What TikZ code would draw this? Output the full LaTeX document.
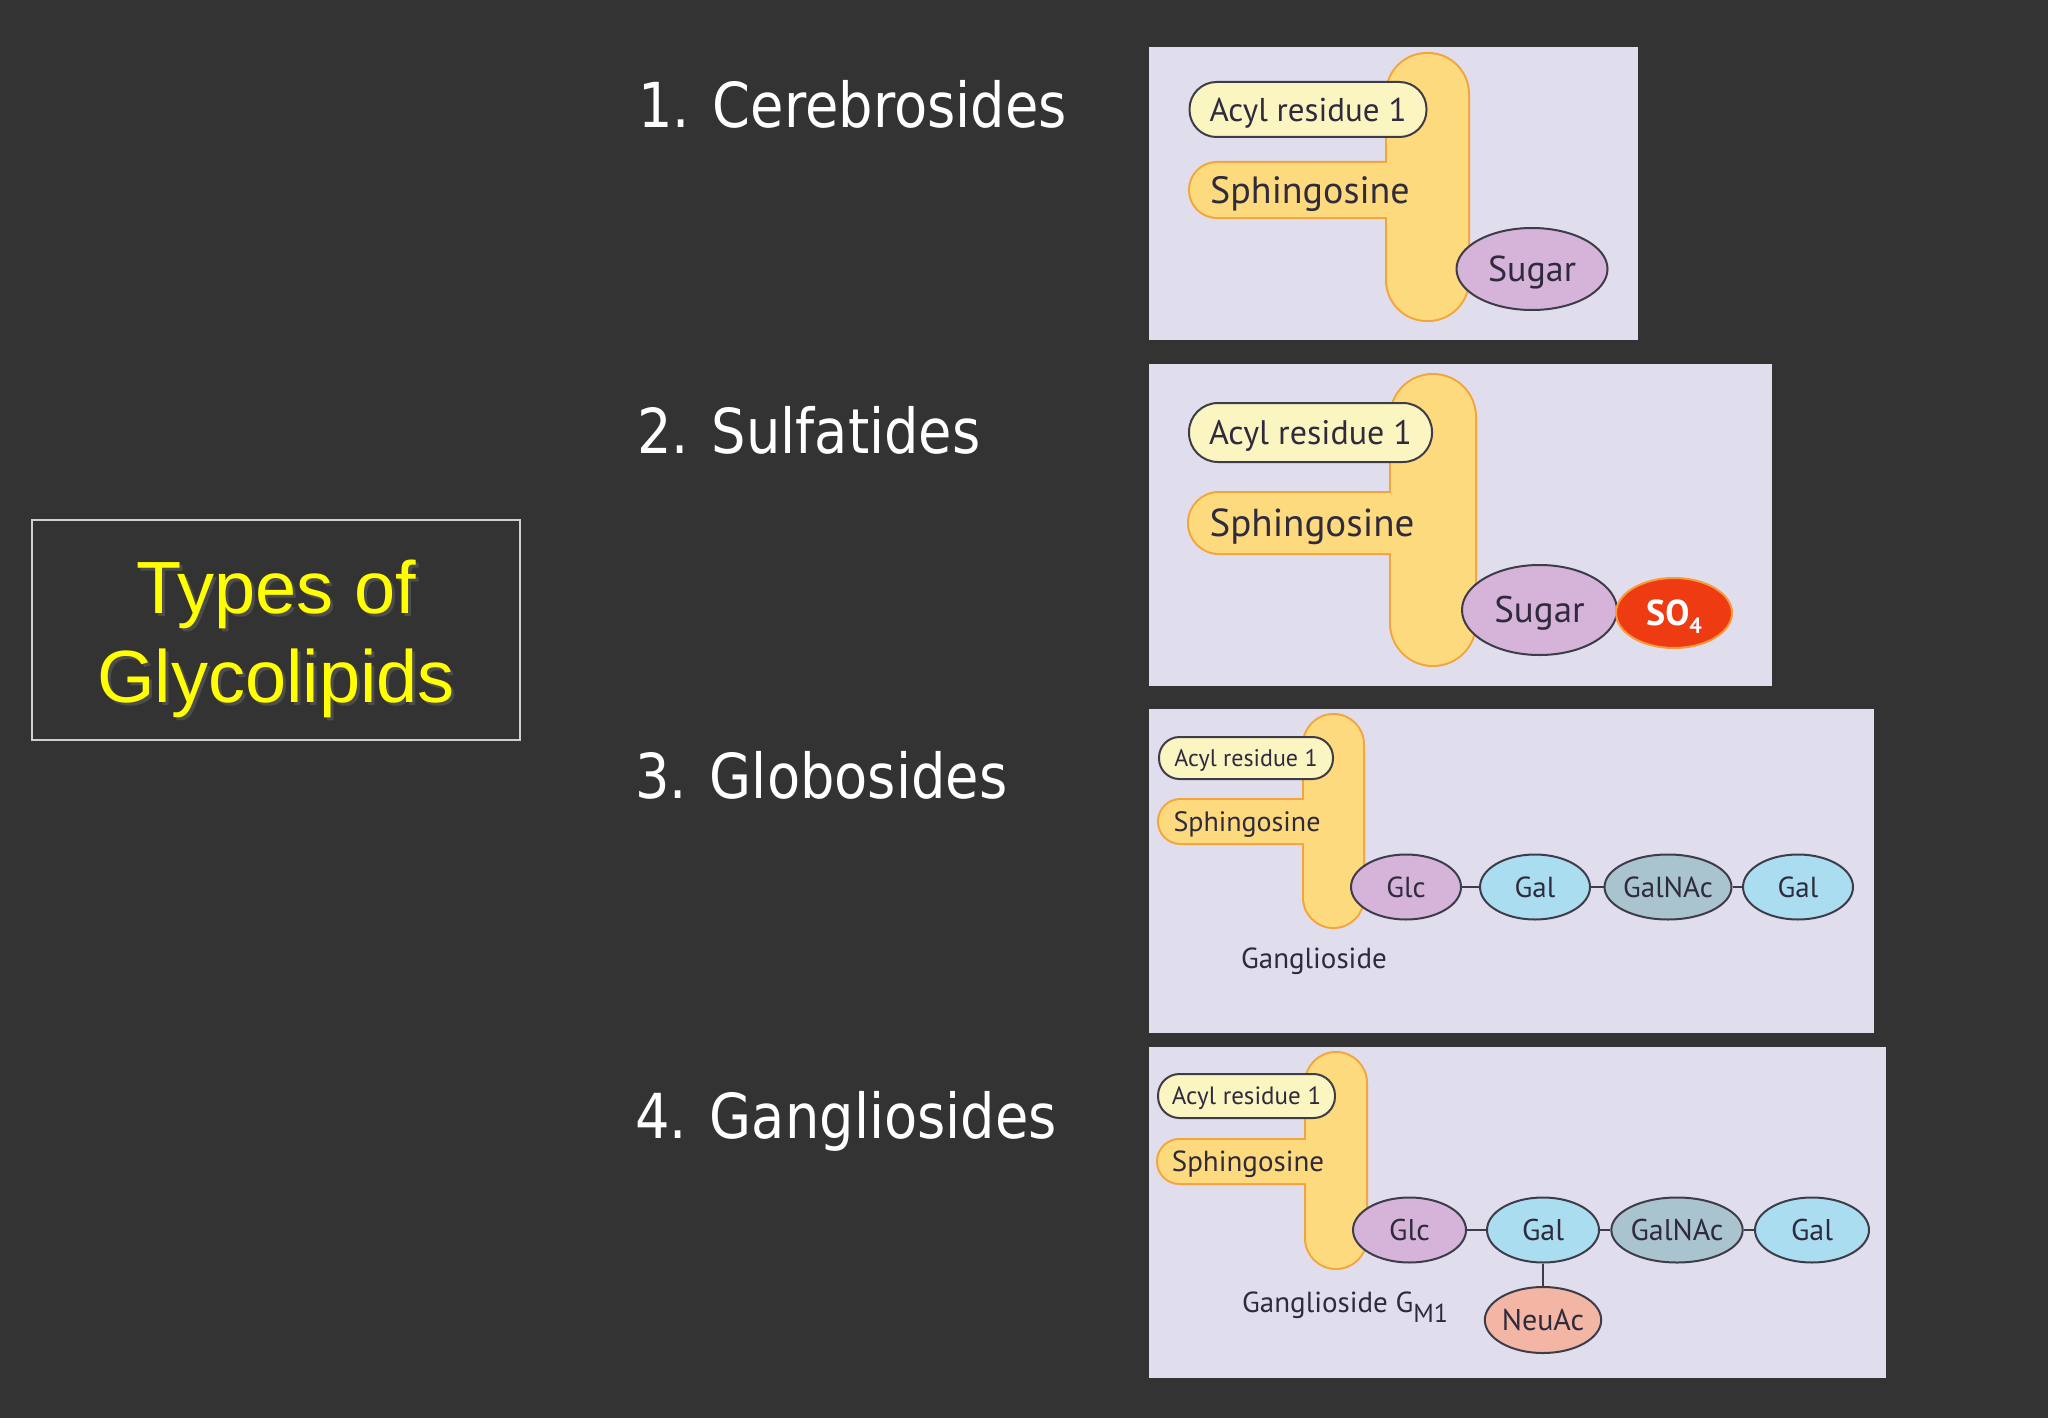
\documentclass[tikz,border=0pt]{standalone}
\usepackage{fontspec}
\usetikzlibrary{shapes.geometric}
\newfontfamily\headfont[FakeStretch=0.875]{DejaVu Sans}
\newfontfamily\titlefont{Liberation Sans}
\newfontfamily\labfont{PT Sans}
\newcommand\fsz[1]{\fontsize{#1}{#1}\selectfont}
\definecolor{bgc}{HTML}{333333}
\definecolor{panelc}{HTML}{E0DDED}
\definecolor{barc}{HTML}{FDDA7D}
\definecolor{barlinec}{HTML}{F3A43A}
\definecolor{acylc}{HTML}{FBF5C2}
\definecolor{outc}{HTML}{3E3C48}
\definecolor{txtc}{HTML}{2F2B3D}
\definecolor{glcc}{HTML}{D6B4DA}
\definecolor{galc}{HTML}{ABDDF1}
\definecolor{galnacc}{HTML}{A9C4CE}
\definecolor{neuacc}{HTML}{F4B6A4}
\definecolor{soc}{HTML}{EE3B12}
\definecolor{soline}{HTML}{F79A3A}
\definecolor{titlec}{HTML}{FFFF00}
\definecolor{boxline}{HTML}{D0D0D0}
% lipid bar: L R T B armleft armtop armbot barradius armradius
\newcommand\lipidbar[9]{%
  \draw[barlinec,line width=4pt,rounded corners=#8pt] (#1,#3) rectangle (#2,#4);
  \draw[barlinec,line width=4pt,rounded corners=#9pt] (#5,#6) rectangle ({(#1+#2)/2},#7);
  \fill[barc,rounded corners=#8pt] (#1,#3) rectangle (#2,#4);
  \fill[barc,rounded corners=#9pt] (#5,#6) rectangle ({(#1+#2)/2},#7);
}
\tikzset{
  heading/.style={anchor=base west, text=white, font=\headfont\fsz{62}, inner sep=0pt},
  titletext/.style={anchor=base, text=titlec, font=\titlefont\fsz{74}, inner sep=0pt},
  titleshadow/.style={anchor=base, text=black!70, font=\titlefont\fsz{74}, inner sep=0pt},
  acyl/.style={rectangle, draw=outc, fill=acylc, line width=2pt, inner sep=0pt, text=txtc,
    font=\labfont\fsz{#1}, text height={0.7*#1pt}, text depth=0pt},
  sph/.style={inner sep=0pt, text=txtc, font=\labfont\fsz{#1}, text height={0.7*#1pt}, text depth=0pt},
  sug/.style={ellipse, draw=outc, line width=2pt, inner sep=0pt, text=txtc,
    font=\labfont\fsz{#1}, text height={0.7*#1pt}, text depth=0pt},
  link/.style={draw=outc, line width=2pt},
  caption/.style={inner sep=0pt, text=txtc, font=\labfont\fsz{29}},
}
\begin{document}
\begin{tikzpicture}[x=1pt,y=-1pt]
\useasboundingbox (0,0) rectangle (2048,1418);
\fill[bgc] (0,0) rectangle (2048,1418);

% title box
\node[draw=boxline, line width=2pt, minimum width=488pt, minimum height=220pt, inner sep=0pt] (titlebox) at (276,630) {};
\node[titleshadow] (t1s) at (279,616) {Types of};
\node[titleshadow] (t2s) at (279,705) {Glycolipids};
\node[titletext] (t1) at (276,613) {Types of};
\node[titletext] (t2) at (276,702) {Glycolipids};

% headings
\node[heading] (h1) at (638,128) {1. Cerebrosides};
\node[heading] (h2) at (637,453) {2. Sulfatides};
\node[heading] (h3) at (635,798) {3. Globosides};
\node[heading] (h4) at (635,1138) {4. Gangliosides};

% ---------- panel 1 ----------
\fill[panelc] (1149,47) rectangle (1638,340);
\lipidbar{1387}{1468}{54}{320}{1190}{163}{217}{40}{27}
\node[acyl=33, minimum width=237pt, minimum height=55pt, rounded corners=27pt] (acyl1) at (1308,109.5) {Acyl residue 1};
\node[sph=38] (sph1) at (1310,190) {Sphingosine};
\node[sug=36, fill=glcc, minimum width=151pt, minimum height=82pt] (sugar1) at (1532,269) {Sugar};

% ---------- panel 2 ----------
\fill[panelc] (1149,364) rectangle (1772,686);
\lipidbar{1391}{1475}{375}{665}{1189}{493}{553}{42}{30}
\node[acyl=34, minimum width=243pt, minimum height=59pt, rounded corners=29pt] (acyl2) at (1310.5,432.5) {Acyl residue 1};
\node[sph=39] (sph2) at (1312,523) {Sphingosine};
\node[sug=37, fill=glcc, minimum width=155pt, minimum height=90pt] (sugar2) at (1539.5,610) {Sugar};
\node[ellipse, fill=soc, draw=soline, line width=2pt, inner sep=0pt, minimum width=116pt, minimum height=70pt,
  text=white, font=\labfont\bfseries\fsz{36}, text height=25pt, text depth=0pt] (so4) at (1674,613)
  {SO\raisebox{-8pt}{\fsz{22}4}};

% ---------- panel 3 ----------
\fill[panelc] (1149,709) rectangle (1874,1033);
\lipidbar{1304}{1363}{715}{927}{1159}{800}{843}{29.5}{21.5}
\node[acyl=24, minimum width=174pt, minimum height=42pt, rounded corners=20.5pt] (acyl3) at (1246,758) {Acyl residue 1};
\node[sph=28] (sph3) at (1247,821.5) {Sphingosine};
\node[sug=29, fill=glcc, minimum width=110pt, minimum height=65pt] (glc3) at (1406,887) {Glc};
\node[sug=29, fill=galc, minimum width=110pt, minimum height=65pt] (gal3a) at (1535,887) {Gal};
\node[sug=29, fill=galnacc, minimum width=108pt, minimum height=65pt] (galnac3) at (1668,887) {GalNAc};
\node[sug=29, fill=galc, minimum width=110pt, minimum height=65pt] (gal3b) at (1798,887) {Gal};
\draw[link] (glc3) -- (gal3a);
\draw[link] (gal3a) -- (galnac3);
\draw[link] (galnac3) -- (gal3b);
\node[caption, anchor=base] (gang3) at (1314,968) {Ganglioside};

% ---------- panel 4 ----------
\fill[panelc] (1149,1047) rectangle (1886,1378);
\lipidbar{1306}{1366}{1053}{1268}{1158}{1140}{1183}{30}{21.5}
\node[acyl=25, minimum width=177pt, minimum height=44pt, rounded corners=21.5pt] (acyl4) at (1246.5,1096) {Acyl residue 1};
\node[sph=29] (sph4) at (1248,1161.5) {Sphingosine};
\node[sug=30, fill=glcc, minimum width=113pt, minimum height=65pt] (glc4) at (1409.5,1230) {Glc};
\node[sug=30, fill=galc, minimum width=112pt, minimum height=65pt] (gal4a) at (1543,1230) {Gal};
\node[sug=30, fill=galnacc, minimum width=114pt, minimum height=65pt] (galnac4) at (1677,1230) {GalNAc};
\node[sug=30, fill=galc, minimum width=114pt, minimum height=65pt] (gal4b) at (1812,1230) {Gal};
\node[sug=30, fill=neuacc, minimum width=112pt, minimum height=66pt] (neuac4) at (1543,1320) {NeuAc};
\draw[link] (glc4) -- (gal4a);
\draw[link] (gal4a) -- (galnac4);
\draw[link] (galnac4) -- (gal4b);
\draw[link] (gal4a) -- (neuac4);
\node[caption, anchor=base west] (gang4) at (1242,1312) {Ganglioside G\raisebox{-10pt}{\fsz{26}M1}};
\end{tikzpicture}
\end{document}
